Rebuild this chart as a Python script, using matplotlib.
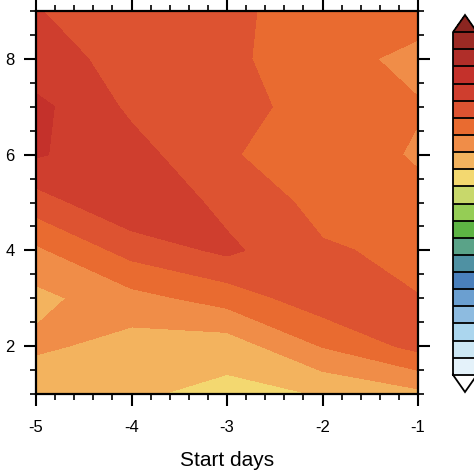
import numpy as np
import matplotlib.pyplot as plt
from matplotlib.colors import ListedColormap
from matplotlib.ticker import MultipleLocator

plt.rcParams['font.family'] = ['Liberation Sans', 'DejaVu Sans']
plt.rcParams['axes.unicode_minus'] = False

# grid: start day (x) vs lead day (y)
start_days = [-5, -4, -3, -2, -1]
lead_days = [1, 2, 3, 4, 5, 6, 7, 8, 9]

# one row per lead day (1..9), columns follow start_days
skill = [
    [0.599, 0.607, 0.585, 0.602, 0.635],
    [0.661, 0.628, 0.621, 0.702, 0.765],
    [0.635, 0.682, 0.720, 0.780, 0.751],
    [0.690, 0.768, 0.810, 0.755, 0.740],
    [0.7755, 0.845, 0.785, 0.735, 0.707],
    [0.8546, 0.819, 0.7557, 0.715, 0.697],
    [0.864, 0.790, 0.781, 0.715, 0.7018],
    [0.812, 0.790, 0.764, 0.7096, 0.6928],
    [0.803, 0.760, 0.7657, 0.715, 0.7108],
]

levels = np.arange(0.0, 1.0001, 0.05)

# low -> high; first is the "under" triangle, last the "over" triangle
palette = [
    "#ffffff",
    "#e4f2fa", "#cce7f4", "#abd6ee", "#8dbbe0", "#6b9fd0",
    "#4a80bc", "#4f91a3", "#5aa388", "#5db444", "#95cd55",
    "#c8d86b", "#f3d870", "#f3b35e", "#f08d48", "#e96b30",
    "#dd5331", "#cf3e2e", "#c4312b", "#b02e29", "#9c2a24",
    "#8b2520",
]

cmap = ListedColormap(palette[1:-1])
cmap.set_under(palette[0])
cmap.set_over(palette[-1])

X, Y = np.meshgrid(start_days, lead_days)
Z = np.array(skill)

fig = plt.figure(figsize=(4.74, 4.74), dpi=100)
ax = fig.add_axes([36 / 474, 80 / 474, 382 / 474, 383 / 474])
# the colour bar runs off the right edge of the figure, as in the source
cax = fig.add_axes([453 / 474, 82 / 474, 24 / 474, 377 / 474])

cs = ax.contourf(X, Y, Z, levels=levels, cmap=cmap, extend='both')
cs.set_edgecolor('face')
cs.set_linewidth(0.4)

ax.set_xlim(-5, -1)
ax.set_ylim(1, 9)
ax.set_xticks(start_days)
ax.set_xticklabels([str(d) for d in start_days])
ax.set_yticks([2, 4, 6, 8])
ax.set_yticklabels(["2", "4", "6", "8"])
ax.xaxis.set_minor_locator(MultipleLocator(0.2))
ax.yaxis.set_minor_locator(MultipleLocator(0.5))
ax.tick_params(which='both', direction='out', top=True, right=True, width=1.5)
ax.tick_params(which='major', length=8.5, labelsize=12)
ax.tick_params(which='minor', length=4.3, width=1.2)
ax.tick_params(axis='x', which='major', pad=10)
ax.tick_params(axis='y', which='major', pad=7)
for sp in ax.spines.values():
    sp.set_linewidth(1.6)
ax.set_xlabel("Start days", fontsize=15, labelpad=12)

cb = fig.colorbar(cs, cax=cax, drawedges=True)
cb.outline.set_linewidth(1.3)
cb.dividers.set_linewidth(1.3)
cb.dividers.set_color('k')
cb.set_ticks([])
cb.ax.minorticks_off()

fig.savefig("out.png", dpi=100)
